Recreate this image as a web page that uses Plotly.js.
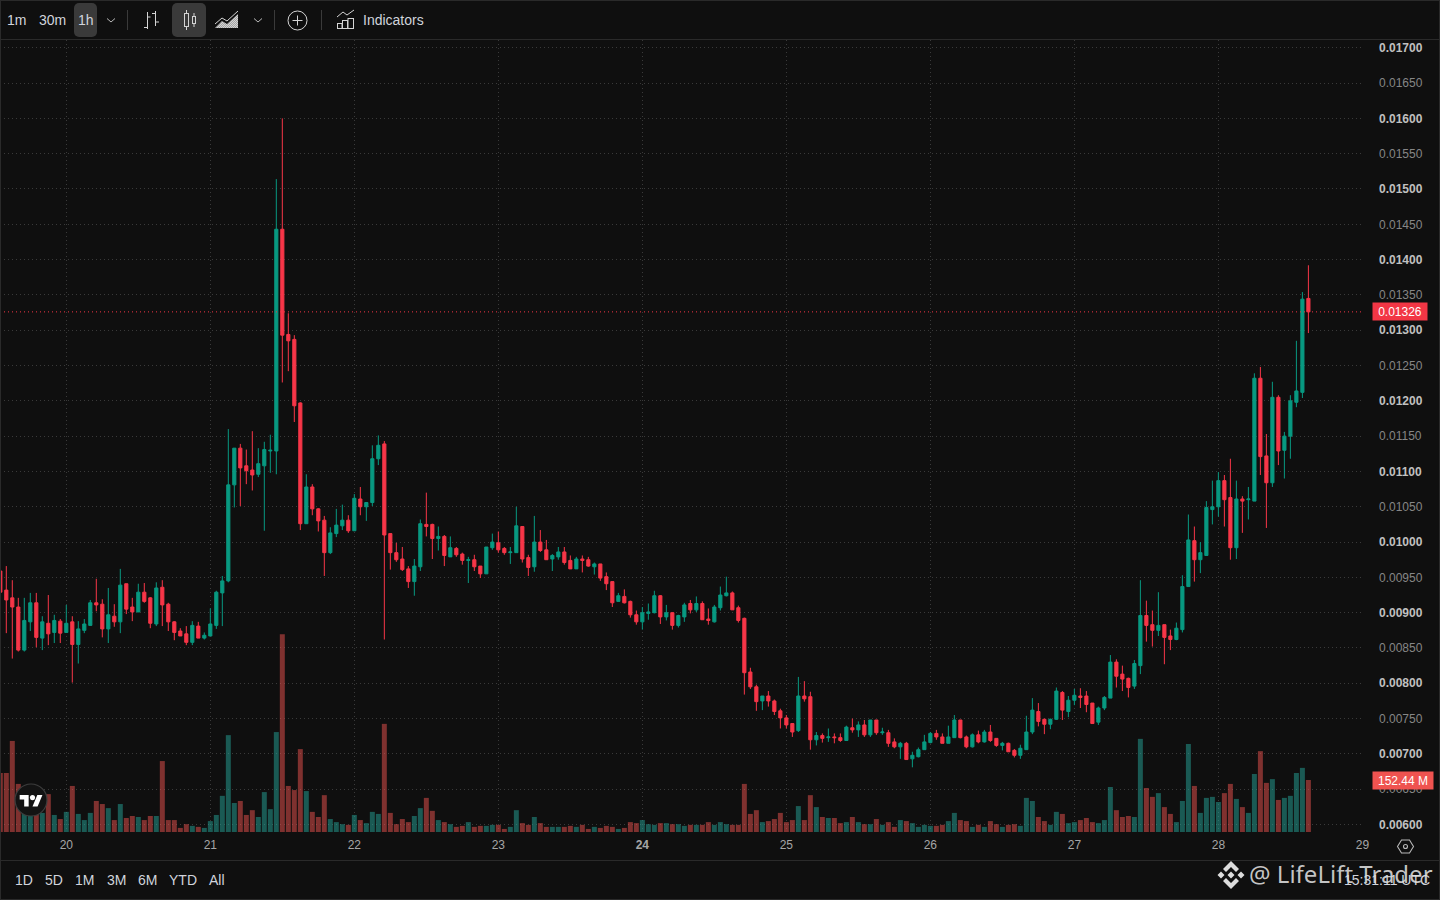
<!DOCTYPE html>
<html>
<head>
<meta charset="utf-8">
<script src="https://cdn.plot.ly/plotly-3.0.1.min.js"></script>
<style>
html,body{margin:0;padding:0;background:#0f0f0f;width:1440px;height:900px;overflow:hidden}
#chart{position:absolute;left:0;top:0;width:1440px;height:900px}
.o{position:absolute;pointer-events:none}
.t{position:absolute;font:14px "Liberation Sans",Arial,sans-serif;color:#d1d4dc;white-space:nowrap;line-height:16px;pointer-events:none}
svg.o{overflow:visible}
</style>
</head>
<body>
<div id="chart"></div>
<!-- frame -->
<div class="o" style="left:0;top:0;width:1438px;height:898px;border:1px solid #2a2a2a"></div>
<div class="o" style="left:0;top:39px;width:1440px;height:1px;background:#2a2a2a"></div>
<div class="o" style="left:0;top:860px;width:1440px;height:1px;background:#2a2a2a"></div>
<!-- toolbar -->
<div class="o" style="left:74px;top:3px;width:23px;height:34px;border-radius:5px;background:#3a3a3a"></div>
<div class="o" style="left:172px;top:3px;width:34px;height:34px;border-radius:5px;background:#3a3a3a"></div>
<div class="o" style="left:127px;top:10px;width:1px;height:20px;background:#3a3a3a"></div>
<div class="o" style="left:274px;top:10px;width:1px;height:20px;background:#3a3a3a"></div>
<div class="o" style="left:321px;top:10px;width:1px;height:20px;background:#3a3a3a"></div>
<div class="t" style="left:7px;top:12px">1m</div>
<div class="t" style="left:39px;top:12px">30m</div>
<div class="t" style="left:78px;top:12px">1h</div>
<div class="t" style="left:363px;top:12px">Indicators</div>
<svg class="o" style="left:0;top:0" width="440" height="40" fill="none" stroke="#d4d4d4" stroke-width="1">
  <defs><pattern id="hatch" width="2" height="2" patternUnits="userSpaceOnUse"><rect width="1" height="1" fill="#d8d8d8"/><rect x="1" y="1" width="1" height="1" fill="#d8d8d8"/></pattern></defs>
  <path d="M107 18.5l4 3.5 4-3.5M254 18.5l4 3.5 4-3.5" stroke="#b8b8b8"/>
  <path d="M147.5 12v17M144 27.5h3.5M147.5 17h3M155.5 11v15M152 13.5h3.5M155.5 22h3.500"/>
  <rect x="184.500" y="13.500" width="4" height="13"/><path d="M186.500 10v3.500M186.500 26.500V30"/>
  <rect x="192.500" y="16.500" width="3" height="7"/><path d="M194 13v3.500M194 23.500V27"/>
  <path d="M215 24l7-6 5 3 11-10"/>
  <path d="M215 28l7-7 5 3 11-10v14z" fill="url(#hatch)" stroke="none"/>
  <circle cx="297.500" cy="20.500" r="9.500"/><path d="M297.500 15.500v10M292.500 20.500h10"/>
  <path d="M337 17l6-5 4 3 7-5"/>
  <rect x="337.500" y="23.500" width="4.500" height="5"/><rect x="342.500" y="20.500" width="5" height="8"/><rect x="348" y="18.500" width="5.500" height="10"/>
</svg>
<!-- bottom bar -->
<div class="t" style="left:15px;top:872px">1D</div>
<div class="t" style="left:45px;top:872px">5D</div>
<div class="t" style="left:75px;top:872px">1M</div>
<div class="t" style="left:107px;top:872px">3M</div>
<div class="t" style="left:138px;top:872px">6M</div>
<div class="t" style="left:169px;top:872px">YTD</div>
<div class="t" style="left:209px;top:872px">All</div>
<div class="t" style="left:1344px;top:872px">15:31:11 UTC</div>
<div class="t" style="left:1249px;top:858px;font:24px 'Noto Sans',sans-serif;line-height:32px;color:rgba(222,222,222,.88)">@ LifeLift Trader</div>
<svg class="o" style="left:1217px;top:861px" width="28" height="28" viewBox="0 0 28 28" fill="#dcdcdc">
  <path d="M14 0l8 8-3 3-5-5-5 5-3-3zM14 28l8-8-3-3-5 5-5-5-3 3zM4 10.500L7.500 14 4 17.500.5 14zM24 10.500l3.500 3.500-3.500 3.500-3.500-3.500zM14 10.500l3.500 3.500-3.500 3.500-3.500-3.500z"/>
</svg>
<!-- settings icon -->
<svg class="o" style="left:1397px;top:838px" width="17" height="17" fill="none" stroke="#b8b8b8" stroke-width="1.100">
  <path d="M4.500 2h8l4 6.500-4 6.500h-8l-4-6.500z"/><circle cx="8.500" cy="8.500" r="2"/>
</svg>
<!-- TradingView badge -->
<svg class="o" style="left:14px;top:783px" width="34" height="34">
  <circle cx="17" cy="17" r="16" fill="#131313" stroke="#3d3d3d" stroke-width="1.200"/>
  <g transform="translate(5.700,9.500) scale(.64)" fill="#fff">
    <path d="M14 22H7V11H0V4h14v18zM28 22h-8l7.500-18h8L28 22z"/><circle cx="20" cy="8" r="4"/>
  </g>
</svg>
<script>
// Prices are in units of 0.00001, hourly candles
const PRICE_UNIT = 0.00001;
const openRaw = [
959,932,921,908,847,887,914,864,885,872,
888,872,887,855,875,882,914,912,877,895,
887,941,908,901,929,921,884,936,912,887,
874,870,858,881,864,867,882,928,945,1081,
1133,1108,1102,1096,1108,1129,1129,1443,1294,1287,
1197,1026,1078,1047,1031,985,1012,1023,1031,1016,
1061,1050,1056,1118,1139,1012,985,976,962,944,
965,1025,1025,1005,1008,979,991,983,974,975,
966,955,992,999,991,985,985,1022,978,965,
1000,989,976,979,986,974,962,976,975,965,
969,951,944,916,923,916,897,887,899,900,
924,894,900,882,894,913,904,913,891,887,
907,924,928,907,892,816,795,775,782,775,
761,751,743,733,782,781,720,726,723,724,
723,719,737,734,741,727,748,730,730,717,
710,715,693,696,706,716,729,724,715,723,
748,724,710,727,717,731,722,712,715,705,
698,706,731,760,749,742,749,787,760,776,
782,782,772,745,765,779,830,813,807,796,
825,896,883,875,883,867,862,876,937,1002,
975,981,1046,1050,1087,1063,992,1061,1060,1058,
1232,1122,1084,1205,1130,1150,1198,1212,1345];
const highRaw = [
965,966,946,921,921,928,928,895,925,897,
891,911,895,888,891,918,948,919,935,912,
962,941,921,941,942,922,943,946,914,888,
878,881,888,887,872,906,931,952,1160,1133,
1139,1131,1157,1133,1142,1152,1514,1600,1324,1293,
1198,1096,1082,1048,1037,1021,1047,1053,1038,1068,
1078,1056,1137,1151,1143,1012,999,993,966,976,
1032,1070,1026,1022,1010,1008,993,985,979,982,
966,993,1012,1015,993,993,1050,1022,982,1037,
1017,1003,983,993,993,981,979,981,979,971,
969,957,944,928,933,917,903,908,913,931,
925,911,900,897,914,918,923,916,906,911,
937,951,930,910,893,822,798,782,789,777,
764,755,743,809,803,788,731,729,736,729,
729,740,750,746,748,748,748,737,734,722,
717,717,703,709,727,731,734,729,740,755,
748,726,729,733,734,741,722,717,716,707,
713,754,779,772,750,750,794,789,782,792,
793,789,772,767,782,840,834,825,808,833,
946,917,903,929,883,876,886,953,1039,1022,
1000,1058,1087,1099,1095,1118,1087,1065,1078,1239,
1248,1153,1227,1208,1156,1208,1285,1354,1392];
const lowRaw = [
925,871,835,845,845,874,851,847,854,857,
857,872,801,828,871,882,902,865,857,880,
871,898,888,901,914,878,881,881,874,861,
867,854,854,864,862,867,877,881,943,1049,
1051,1082,1073,1092,1016,1098,1096,1226,1242,1170,
1017,1026,1038,1015,952,983,1007,1017,1013,1016,
1038,1030,1051,1109,862,961,972,959,935,924,
959,1008,976,988,966,979,979,968,942,959,
949,955,989,985,982,969,985,971,952,958,
986,975,959,975,968,962,962,957,965,954,
945,932,908,916,913,893,883,876,890,899,
884,889,876,879,887,899,901,890,883,886,
903,923,904,886,784,792,761,762,767,755,
736,736,724,731,774,706,712,716,717,715,
717,719,730,724,724,724,727,727,710,708,
693,692,681,695,706,715,720,715,715,723,
722,708,709,715,716,717,710,705,703,695,
693,706,728,739,728,735,748,748,752,769,
765,759,743,741,762,779,794,789,780,792,
813,859,852,867,827,847,861,872,937,944,
956,981,1025,1036,1022,975,976,1013,1032,1058,
1095,1020,1078,1109,1090,1118,1191,1204,1296];
const closeRaw = [
929,918,908,847,889,914,865,887,870,889,
871,885,855,877,884,914,911,877,897,887,
939,905,901,929,916,885,935,911,887,872,
867,858,882,864,868,884,929,945,1081,1133,
1105,1101,1095,1111,1131,1130,1443,1293,1285,1193,
1026,1078,1047,1030,985,1013,1024,1031,1016,1062,
1050,1056,1118,1137,1010,985,975,961,944,966,
1026,1022,1005,1008,981,992,982,974,975,965,
955,993,1000,989,985,986,1023,976,964,1000,
988,975,981,986,971,962,976,974,966,969,
949,941,914,924,914,897,887,900,901,924,
894,900,882,896,911,904,913,890,889,908,
925,928,904,889,815,795,774,782,775,760,
751,741,731,782,778,720,726,722,724,723,
719,738,734,741,727,748,730,731,715,710,
715,692,698,706,717,729,724,715,724,748,
723,710,727,717,731,719,712,715,703,698,
708,731,762,746,742,749,789,762,776,783,
780,770,743,765,780,830,810,806,794,828,
896,882,875,882,865,862,878,937,1003,975,
985,1049,1050,1087,1060,992,1061,1058,1061,1232,
1121,1084,1205,1129,1150,1200,1214,1344,1326];
// Volume in millions
const volumeM = [
173,173,267,141,59,49,59,56,111,50,
38,59,135,53,35,56,91,82,70,35,
82,41,47,44,35,47,47,208,35,35,
12,23,18,15,12,32,50,106,284,85,
91,50,64,44,117,67,293,580,135,123,
243,120,59,44,108,38,29,23,21,50,
35,26,59,53,317,56,23,38,29,47,
70,100,62,35,29,23,15,18,29,15,
18,18,21,21,9,15,64,26,21,44,
26,15,15,15,15,18,15,21,9,15,
12,18,15,9,12,29,26,35,23,21,
26,26,23,23,18,21,21,21,29,21,
29,23,21,21,141,53,64,29,32,38,
56,29,35,76,35,108,73,44,41,41,
26,29,44,29,23,23,38,21,29,15,
35,32,26,15,21,18,18,21,32,56,
35,32,15,21,15,32,23,15,21,23,
18,100,91,44,32,21,59,53,26,29,
35,41,29,26,35,132,64,44,47,44,
273,129,103,114,73,53,29,91,258,135,
56,100,103,88,114,141,97,73,56,170,
237,144,155,94,100,106,173,188,152.44];
const priceTicks = [0.006,0.0065,0.007,0.0075,0.008,0.0085,0.009,0.0095,0.01,0.0105,0.011,0.0115,0.012,0.0125,0.013,0.0135,0.014,0.0145,0.015,0.0155,0.016,0.0165,0.017];
const dayTickHours = [11,35,59,83,107,131,155,179,203,227];
const dayTickLabels = ['20','21','22','23','<b>24</b>','25','26','27','28','29'];
const UP = '#089981', DOWN = '#F73648';
const VOL_UP = 'rgba(38,166,154,0.5)', VOL_DOWN = 'rgba(239,83,80,0.5)';

const hours = openRaw.map((_, i) => i);
const scale = a => a.map(v => +(v * PRICE_UNIT).toFixed(5));
const open = scale(openRaw), high = scale(highRaw), low = scale(lowRaw), close = scale(closeRaw);
const volume = volumeM.map(v => v);
const lastClose = close[close.length - 1];
const lastVolume = volume[volume.length - 1];
const priceText = priceTicks.map(p => {
  const s = p.toFixed(5);
  return Math.round(p * 1e5) % 100 === 0
    ? '<b><span style="color:#c0c0c0">' + s + '</span></b>'
    : '<span style="color:#868686">' + s + '</span>';
});

const volTrace = {
  type: 'bar', x: hours, y: volume, yaxis: 'y', hoverinfo: 'skip',
  marker: { color: hours.map(i => close[i] >= open[i] ? VOL_UP : VOL_DOWN), line: { width: 0 } }
};
const candleTrace = {
  type: 'candlestick', x: hours, open, high, low, close, yaxis: 'y2',
  increasing: { line: { color: UP, width: 1 }, fillcolor: UP },
  decreasing: { line: { color: DOWN, width: 1 }, fillcolor: DOWN },
  whiskerwidth: 0, hoverinfo: 'skip'
};
const layout = {
  width: 1440, height: 900, autosize: false, showlegend: false,
  margin: { l: 0, r: 77, t: 40, b: 68, pad: 0 },
  paper_bgcolor: '#0f0f0f', plot_bgcolor: '#0f0f0f',
  font: { family: '"Liberation Sans",Arial,sans-serif', size: 12, color: '#a6a6a6' },
  bargap: 0.17, boxgap: 0.25,
  xaxis: {
    range: [-0.05, 227.1], fixedrange: true, rangeslider: { visible: false },
    tickmode: 'array', tickvals: dayTickHours, ticktext: dayTickLabels,
    ticks: '', ticklabelstandoff: 4, showline: false, zeroline: false,
    showgrid: true, gridcolor: '#3a3a3a', griddash: '1px,3px', gridwidth: 1,
    tickfont: { size: 12, color: '#a6a6a6' }
  },
  yaxis: {
    range: [0, 2322], fixedrange: true, showgrid: false, zeroline: false,
    showticklabels: false, ticks: '', showline: false
  },
  yaxis2: {
    overlaying: 'y', side: 'right', anchor: 'x',
    range: [0.005894, 0.01711], fixedrange: true,
    tickmode: 'array', tickvals: priceTicks, ticktext: priceText,
    ticks: '', ticklabelstandoff: 15, showline: false, zeroline: false,
    showgrid: true, gridcolor: '#3a3a3a', griddash: '1px,3px', gridwidth: 1,
    tickfont: { size: 12 }
  },
  shapes: [{
    type: 'line', xref: 'paper', yref: 'y2', x0: 0, x1: 1, y0: lastClose, y1: lastClose,
    line: { color: '#F23645', width: 1, dash: '1px,3px' }
  }],
  annotations: [{
    xref: 'paper', yref: 'y2', x: 1400 / 1363, y: lastClose, text: lastClose.toFixed(5),
    showarrow: false, bgcolor: '#F23645', width: 52, height: 15, borderpad: 1,
    xanchor: 'center', yanchor: 'middle', align: 'center', font: { size: 12, color: '#fff' }
  }, {
    xref: 'paper', yref: 'y', x: 1403 / 1363, y: lastVolume, text: lastVolume.toFixed(2) + ' M',
    showarrow: false, bgcolor: '#EF5350', width: 58, height: 15, borderpad: 1,
    xanchor: 'center', yanchor: 'middle', align: 'center', font: { size: 12, color: '#fff' }
  }]
};
Plotly.newPlot('chart', [volTrace, candleTrace], layout, { displayModeBar: false, staticPlot: true });
</script>
</body>
</html>
